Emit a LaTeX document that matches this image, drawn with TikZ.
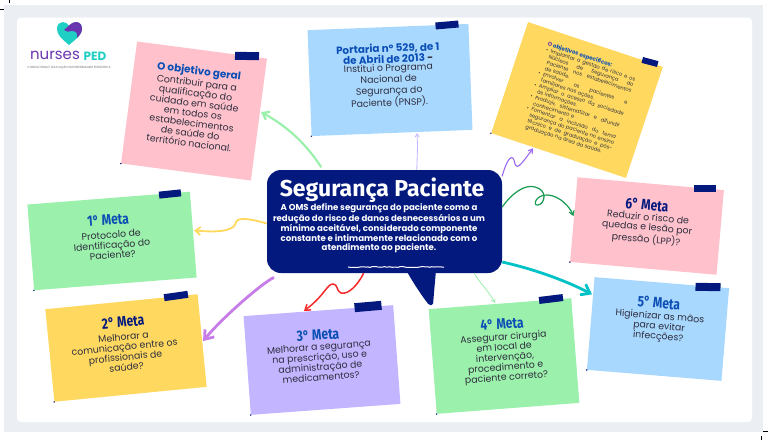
\documentclass[tikz,border=0pt]{standalone}
\usepackage{fontspec}
\setmainfont{Poppins}
\newfontfamily\titlefont{Fira Sans}
\newfontfamily\metafont[FakeStretch=0.8]{Fira Sans}
\usetikzlibrary{arrows.meta,decorations.pathmorphing}
\definecolor{navy}{HTML}{04197E}
\definecolor{pagegrey}{HTML}{EBEFF3}
\definecolor{notepink}{HTML}{FFC2CC}
\definecolor{noteblue}{HTML}{A9D8FF}
\definecolor{noteyellow}{HTML}{FFD95F}
\definecolor{notegreen}{HTML}{9BF0AB}
\definecolor{notelilac}{HTML}{C3B5FF}
\definecolor{headblue}{HTML}{0B4FB5}
\definecolor{inkgrey}{HTML}{2F2F3F}
\definecolor{logoteal}{HTML}{1FCFC4}
\definecolor{logopurple}{HTML}{6A35B0}
\definecolor{arrowviolet}{HTML}{C77DE8}
\definecolor{arrowplum}{HTML}{9B6AF0}
\definecolor{arrowforest}{HTML}{159A50}
\definecolor{arrowteal}{HTML}{00C2C7}
\definecolor{arrowred}{HTML}{F52A2A}
\newcommand{\hang}{\hspace*{5pt}}
\newcommand{\bul}{\makebox[5pt][l]{\textbullet}}
\begin{document}
\begin{tikzpicture}[x=1pt, y=-1pt,
  note/.style={inner sep=0pt, rotate=#1},
  tapemark/.style={fill=navy, inner sep=0pt, rotate=#1},
  metahead/.style={rotate=#1, text=headblue, inner sep=0pt, font=\metafont\bfseries\fontsize{15}{16}\selectfont},
  metabody/.style={rotate=#1, text=inkgrey, inner sep=0pt, align=center, font=\fontsize{9.4}{10.1}\selectfont},
  boldhead/.style={rotate=#1, text=headblue, inner sep=0pt, align=center, font=\bfseries\fontsize{10.4}{10.7}\selectfont},
  link/.style={-{Straight Barb[length=4pt,width=5pt]}, shorten >=1pt},
  biglink/.style={-{Straight Barb[length=8pt,width=12pt]}, shorten >=1pt},
  thinlink/.style={-{Straight Barb[length=3pt,width=4pt]}, shorten >=1pt}]
\useasboundingbox (0,0) rectangle (768,440);
\fill[pagegrey] (4,4.5) rectangle (763,432);
\fill[white, rounded corners=4pt] (17,17.5) rectangle (752,422);
\draw[black, line width=0.5pt] (0,9) -- (4,9) (9,0) -- (9,3) (763,431) -- (768,431) (761,436) -- (761,440);

\fill[logoteal] (69,45) .. controls (62,39) and (57,35) .. (57,29) .. controls (57,24) and (60,22) .. (63,22) .. controls (66,22) and (68,24) .. (69,26) .. controls (71,24) and (73,22) .. (76,22) .. controls (80,22) and (82,25) .. (82,29) .. controls (82,35) and (76,39) .. (69,45) -- cycle;
\fill[logopurple] (64,30) .. controls (68,27) and (71,22) .. (76,22) .. controls (80,22) and (82,25) .. (82,29) .. controls (82,32) and (80,35) .. (77,38) .. controls (78,33) and (76,31) .. (72,31) .. controls (69,32) and (66,32) .. (64,30) -- cycle;
\node[inner sep=0pt, text=logopurple, font=\fontsize{15}{15}\selectfont] (nurses) at (55,55) {nurses};
\node[inner sep=0pt, text=logoteal, font=\bfseries\fontsize{12}{12}\selectfont] (ped) at (95,56) {PED};
\node[inner sep=0pt, text=inkgrey!70, font=\fontsize{3}{3}\selectfont] (tagline) at (69,67) {CONSULTORIA E EDUCAÇÃO EM ENFERMAGEM PEDIÁTRICA};

\node[note=-7.5, fill=notepink, minimum width=131pt, minimum height=123pt] (geral) at (194,111) {};
\node[note=2.2, fill=noteblue, minimum width=161pt, minimum height=106pt] (portaria) at (390,80) {};
\node[note=-18.4, fill=noteyellow, minimum width=142pt, minimum height=117pt] (especificos) at (577,100) {};
\node[note=4.5, fill=notegreen, minimum width=163pt, minimum height=86pt] (meta1) at (112,241) {};
\node[note=5.6, fill=noteyellow, minimum width=153pt, minimum height=93pt] (meta2) at (126,348) {};
\node[note=4.2, fill=notelilac, minimum width=150pt, minimum height=99pt] (meta3) at (322,360) {};
\node[note=4.4, fill=notegreen, minimum width=143pt, minimum height=105pt] (meta4) at (504,356) {};
\node[note=-4.7, fill=noteblue, minimum width=135pt, minimum height=93pt] (meta5) at (658,329) {};
\node[note=-5, fill=notepink, minimum width=147pt, minimum height=85pt] (meta6) at (647,226) {};

\foreach \n in {geral,portaria,especificos,meta1,meta2,meta3,meta4,meta5,meta6}
  \fill[navy] (\n.south west) circle (0.8);

\node[tapemark=-1, minimum width=24pt, minimum height=8pt] (tapegeral) at (247,56) {};
\node[tapemark=5, minimum width=23pt, minimum height=7pt] (tapeportaria) at (447,25) {};
\node[tapemark=-15, minimum width=16pt, minimum height=6pt] (tapeespecificos) at (650,62) {};
\node[tapemark=6, minimum width=22pt, minimum height=7pt] (tapemeta1) at (170,194) {};
\node[tapemark=8, minimum width=24pt, minimum height=7pt] (tapemeta2) at (176,296) {};
\node[tapemark=5, minimum width=27pt, minimum height=9pt] (tapemeta3) at (368,306.5) {};
\node[tapemark=7, minimum width=24pt, minimum height=7pt] (tapemeta4) at (551,299) {};
\node[tapemark=-1, minimum width=25pt, minimum height=8pt] (tapemeta5) at (708,287) {};
\node[tapemark=0, minimum width=22pt, minimum height=7pt] (tapemeta6) at (705,188.5) {};

\node[boldhead=-7.5] (headgeral) at (199,72) {O objetivo geral};
\node[metabody=-7.5] (textgeral) at (193,113) {Contribuir para a\\qualificação do\\cuidado em saúde\\em todos os\\estabelecimentos\\de saúde do\\território nacional.};
\node[boldhead=2.2] (headportaria) at (388,53.5) {Portaria nº 529, de 1\\de Abril de 2013 \textcolor{inkgrey}{-}};
\node[metabody=2.2, font=\fontsize{9.4}{11.3}\selectfont] (textportaria) at (389,86) {Institui o Programa\\Nacional de\\Segurança do\\Paciente (PNSP).};
\node[rotate=-18.4, inner sep=0pt, text=headblue, font=\bfseries\fontsize{5.6}{7}\selectfont] (headespecificos) at (580,55) {\textcolor{logopurple}{O} objetivos específicos:};
\node[rotate=-18.4, inner sep=0pt, text=inkgrey, text width=94pt, font=\fontsize{5.2}{6.1}\selectfont] (textespecificos) at (578,102.6) {\bul Implantar\hfill a\hfill gestão\hfill de\hfill risco\hfill e\hfill os\\\hang Núcleos\hfill de\hfill Segurança\hfill do\\\hang Paciente\hfill nos\hfill estabelecimentos\\\hang de saúde.\\\bul Envolver\hfill os\hfill pacientes\hfill e\\\hang familiares nas ações.\\\bul Ampliar\hfill o\hfill acesso\hfill da\hfill sociedade\\\hang às informações.\\\bul Produzir,\hfill sistematizar\hfill e\hfill difundir\\\hang conhecimento e\\\bul Fomentar\hfill a\hfill inclusão\hfill do\hfill tema\\\hang segurança\hfill do\hfill paciente\hfill no\hfill ensino\\\hang técnico\hfill e\hfill de\hfill graduação\hfill e\hfill pós-\\\hang graduação na área da saúde.};

\node[metahead=4.5] (head1) at (108,220) {1° Meta};
\node[metabody=4.5] (text1) at (112,245) {Protocolo de\\Identificação do\\Paciente?};
\node[metahead=5.6, text=navy] (head2) at (123,322) {2° Meta};
\node[metabody=5.6] (text2) at (125,352) {Melhorar a\\comunicação entre os\\profissionais de\\saúde?};
\node[metahead=4.2] (head3) at (318,335) {3° Meta};
\node[metabody=4.2] (text3) at (320,362) {Melhorar a segurança\\na prescrição, uso e\\administração de\\medicamentos?};
\node[metahead=4.4] (head4) at (502,324) {4° Meta};
\node[metabody=4.4] (text4) at (505,358) {Assegurar cirurgia\\em local de\\intervenção,\\procedimento e\\paciente correto?};
\node[metahead=-4.7] (head5) at (659,303) {5° Meta};
\node[metabody=-4.7] (text5) at (659,327) {Higienizar as mãos\\para evitar\\infecções?};
\node[metahead=-5, text=navy] (head6) at (647,205) {6° Meta};
\node[metabody=-5] (text6) at (647,229.3) {Reduzir o risco de\\quedas e lesão por\\pressão (LPP)?};

\node[fill=navy, rounded corners=14pt, inner sep=0pt, minimum width=235pt, minimum height=103pt] (bubble) at (384.5,221.5) {};
\fill[navy, rounded corners=1.5pt] (406,270) .. controls (414,284) and (422,296) .. (429,305) -- (433,305) .. controls (434,292) and (435,282) .. (436,270) -- cycle;
\node[inner sep=0pt, text=white, font=\titlefont\bfseries\fontsize{23}{24}\selectfont] (title) at (382,190) {Segurança Paciente};
\node[inner sep=0pt, text=white, align=center, font=\bfseries\fontsize{8.6}{8.8}\selectfont] (definition) at (379,228.4) {A OMS define segurança do paciente como a\\redução do risco de danos desnecessários a um\\mínimo aceitável, considerado componente\\constante e intimamente relacionado com o\\atendimento ao paciente.};
\coordinate (waveleft) at (348,267);
\coordinate (waveright) at (444,267);
\draw[white, line width=1pt, decorate, decoration={random steps, segment length=2pt, amplitude=0.5pt}] (waveleft) -- (waveright);

\draw[biglink, -{Straight Barb[length=6pt,width=9pt]}, draw=notegreen, line width=2.2pt, shorten <=3pt] (bubble.140) .. controls (305,142) and (285,125) .. (geral.7);
\draw[thinlink, draw=notelilac, line width=0.8pt] (bubble.58) .. controls (417,158) and (418,147) .. (portaria.-65);
\draw[link, draw=arrowplum, line width=1.1pt] (bubble.21) .. controls (505,165) and (511,152) .. (514,160) .. controls (516,172) and (520,166) .. (especificos.-114);
\draw[link, draw=arrowforest, line width=1.2pt] (bubble.7) .. controls (512,193) and (525,184) .. (535,187) .. controls (548,190) and (545,204) .. (538,205) .. controls (532,206) and (536,194) .. (548,195) .. controls (560,196) and (570,207) .. (meta6.178);
\draw[biglink, draw=arrowteal, line width=2.8pt] (bubble.-19) .. controls (530,268) and (565,280) .. (meta5.157);
\draw[thinlink, draw=notegreen, line width=0.8pt] (bubble.-30) .. controls (480,283) and (490,293) .. (meta4.95);
\draw[link, -{Straight Barb[length=5pt,width=7pt]}, draw=arrowred, line width=1.5pt] (bubble.-112) .. controls (358,285) and (348,295) .. (341,293) .. controls (336,291) and (338,284) .. (333,284) .. controls (327,284) and (325,295) .. (meta3.107);
\draw[biglink, draw=arrowviolet, line width=2.8pt, shorten <=10pt] (bubble.-153) .. controls (262,283) and (222,318) .. (meta2.-1);
\draw[biglink, -{Straight Barb[length=5pt,width=8pt]}, draw=noteyellow, line width=1.8pt] (bubble.181) .. controls (255,220) and (238,216) .. (236,222) .. controls (235,230) and (222,233) .. (meta1.3);
\end{tikzpicture}
\end{document}
